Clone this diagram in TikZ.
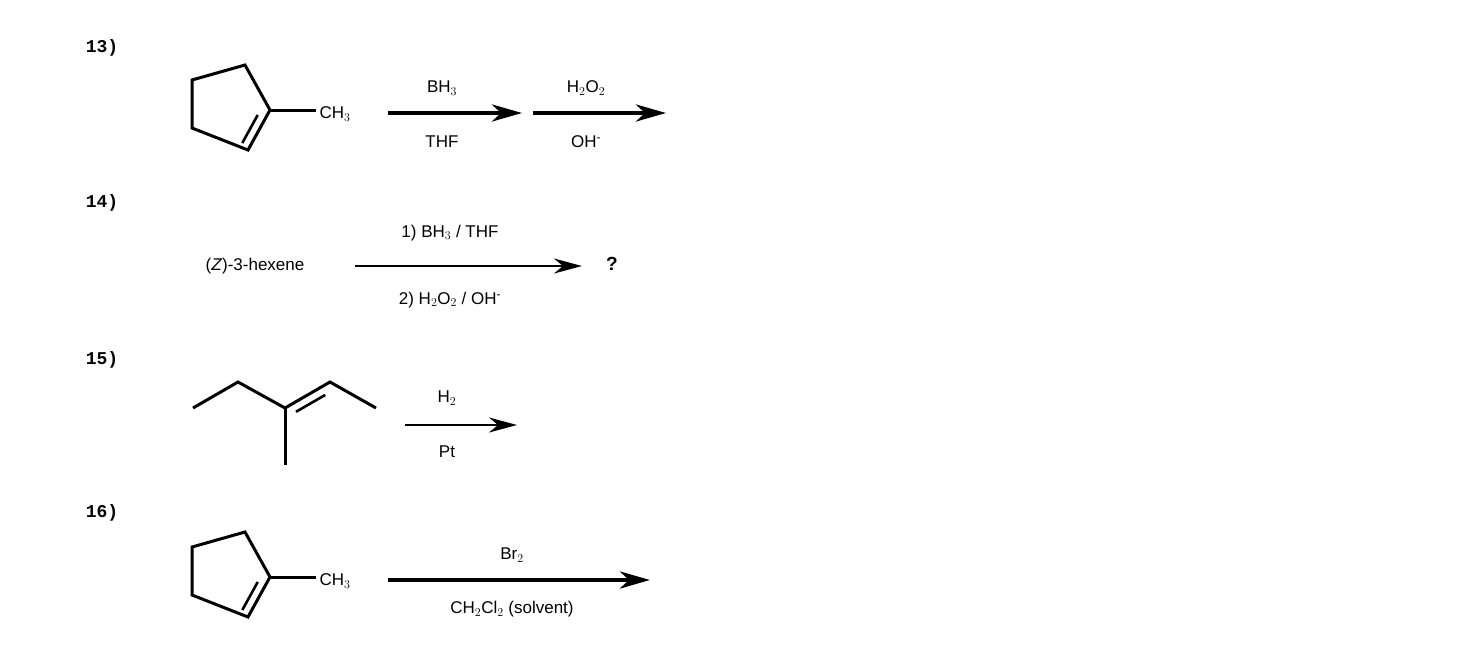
\documentclass[tikz,border=0pt]{standalone}
\usepackage{fontspec}
\setmainfont{Liberation Sans}
\newfontfamily\monof{Liberation Mono}
\usetikzlibrary{arrows.meta,calc}
\begin{document}
\begin{tikzpicture}[x=1pt,y=-1pt,
  bond/.style={line width=3pt,line join=miter},
  thinbond/.style={line width=2.6pt},
  rxn/.style={line width=4.5pt,-{Stealth[length=30pt,width=17pt,inset=9pt]}},
  rxnthin/.style={line width=2pt,-{Stealth[length=28pt,width=15pt,inset=9pt]}},
  lbl/.style={font=\fontsize{17}{19}\selectfont},
  num/.style={font=\monof\bfseries\fontsize{18}{20}\selectfont}]
\useasboundingbox (0,0) rectangle (1459,649);
% 13
\node[num] (n13) at (102,48) {13)};
\coordinate (a1) at (192,80); \coordinate (a2) at (245,65); \coordinate (a3) at (270,110);
\coordinate (a4) at (248,150); \coordinate (a5) at (192,128);
\draw[bond] (a1)--(a2)--(a3)--(a4)--(a5)--cycle;
\draw[thinbond] ($(a3)!0.15!(a4)+(-9,-1)$) -- ($(a3)!0.85!(a4)+(-9,-1)$);
\node[lbl,anchor=west] (m13) at (316,114) {CH$_3$};
\draw[bond] (a3) -- (a3 -| m13.west);
\coordinate (r1s) at (388,113); \coordinate (r1e) at (522,113);
\draw[rxn] (r1s) -- (r1e);
\node[lbl] (t1) at (442,88) {BH$_3$};
\node[lbl] (b1) at (442,142) {THF};
\coordinate (r2s) at (533,113); \coordinate (r2e) at (666,113);
\draw[rxn] (r2s) -- (r2e);
\node[lbl] (t2) at (586,88) {H$_2$O$_2$};
\node[lbl] (b2) at (586,142) {OH\textsuperscript{-}};
% 14
\node[num] (n14) at (102,203) {14)};
\node[lbl] (z) at (255,266) {(\textit{Z})-3-hexene};
\coordinate (r3s) at (355,266); \coordinate (r3e) at (582,266);
\draw[rxnthin] (r3s) -- (r3e);
\node[lbl] (t3) at (450,233) {1) BH$_3$ / THF};
\node[lbl] (b3) at (450,300) {2) H$_2$O$_2$ / OH\textsuperscript{-}};
\node[font=\bfseries\fontsize{19}{21}\selectfont] (q) at (612,264) {?};
% 15
\node[num] (n15) at (102,360) {15)};
\coordinate (c1) at (193,408); \coordinate (c2) at (238,382); \coordinate (c3) at (285,408);
\coordinate (c4) at (330,382); \coordinate (c5) at (376,408); \coordinate (c6) at (285,465);
\draw[bond] (c1)--(c2)--(c3)--(c4)--(c5);
\draw[bond] (c3)--(c6);
\draw[thinbond] ($(c3)!0.2!(c4)+(2,9)$) -- ($(c3)!0.85!(c4)+(2,9)$);
\coordinate (r4s) at (405,425); \coordinate (r4e) at (517,425);
\draw[rxnthin] (r4s) -- (r4e);
\node[lbl] (t4) at (447,398) {H$_2$};
\node[lbl] (b4) at (447,452) {Pt};
% 16
\node[num] (n16) at (102,513) {16)};
\coordinate (d1) at (192,547); \coordinate (d2) at (245,532); \coordinate (d3) at (270,577);
\coordinate (d4) at (248,617); \coordinate (d5) at (192,595);
\draw[bond] (d1)--(d2)--(d3)--(d4)--(d5)--cycle;
\draw[thinbond] ($(d3)!0.15!(d4)+(-9,-1)$) -- ($(d3)!0.85!(d4)+(-9,-1)$);
\node[lbl,anchor=west] (m16) at (316,581) {CH$_3$};
\draw[bond] (d3) -- (d3 -| m16.west);
\coordinate (r5s) at (388,580); \coordinate (r5e) at (650,580);
\draw[rxn] (r5s) -- (r5e);
\node[lbl] (t5) at (512,555) {Br$_2$};
\node[lbl] (b5) at (512,609) {CH$_2$Cl$_2$ (solvent)};
\end{tikzpicture}
\end{document}
